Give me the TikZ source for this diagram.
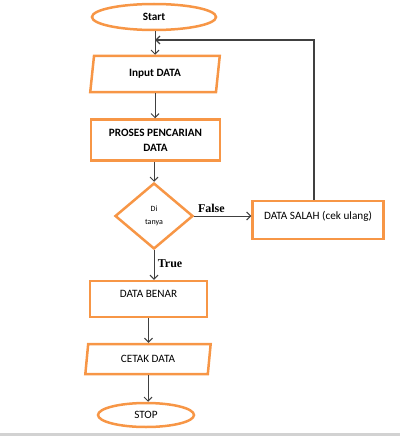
\documentclass[tikz,border=0pt]{standalone}
\usepackage{fontspec}
\setmainfont{Carlito}
\newfontfamily\answerfont{Liberation Serif}
\usetikzlibrary{shapes.geometric,arrows.meta}
\definecolor{boxorange}{RGB}{247,150,70}
\definecolor{linegray}{RGB}{64,64,64}
\newcommand\flowfont{\fontsize{11.2}{15}\selectfont}

\begin{document}
\begin{tikzpicture}[x=1pt,y=-1pt,>={Straight Barb[length=4pt,width=8pt]},
	flow/.style={draw=boxorange,line width=2.5pt,inner sep=0pt,font=\flowfont},
	term/.style={flow,ellipse},
	io/.style={flow,trapezium,trapezium left angle=80,trapezium right angle=100,trapezium stretches=true},
	proc/.style={flow,rectangle},
	ask/.style={flow,diamond,align=center,font=\fontsize{8}{13}\selectfont},
	link/.style={->,draw=linegray,line width=1pt},
	answer/.style={font=\answerfont\bfseries\fontsize{12}{14}\selectfont}]
			\useasboundingbox (0,0) rectangle (400,436);
			\fill[gray!35] (0,433) rectangle (400,436);
			\node[term,minimum width=124,minimum height=26,font=\flowfont\bfseries] (start) at (154,17) {Start};
			\node[io,minimum width=130,minimum height=36,font=\flowfont\bfseries] (input) at (155,74) {Input DATA};
			\node[proc,minimum width=129,minimum height=41,align=center,font=\flowfont\bfseries] (proses) at (155.5,140) {PROSES PENCARIAN\\DATA};
			\node[ask,minimum width=78,minimum height=66] (tanya) at (154,216) {Di\\tanya};
			\node[proc,minimum width=131,text height=12,text depth=14,inner ysep=6] (salah) at (318,220) {DATA SALAH (cek ulang)};
			\node[proc,minimum width=117,text height=10,text depth=14,inner ysep=6] (benar) at (148.5,299) {DATA BENAR};
			\node[io,minimum width=126,minimum height=30] (cetak) at (148,359) {CETAK DATA};
			\node[term,minimum width=96,minimum height=24] (stop) at (146,415) {STOP};
			\coordinate (back) at (155,40);
			\draw[link] (input.north |- start.south) -- (input.north);
			\draw[link] (input.south) -- (input.south |- proses.north);
			\draw[link] (tanya.north |- proses.south) -- (tanya.north);
			\draw[link] (tanya.east) -- (tanya.east -| salah.west) node[answer,pos=.3,above] (false) {False};
			\draw[link] (tanya.south) -- (tanya.south |- benar.north) node[answer,pos=.45,right] (true) {True};
			\draw[link] (benar.south) -- (benar.south |- cetak.north);
			\draw[link] (cetak.south) -- (cetak.south |- stop.north);
			\draw[link,line width=1.3pt] ([xshift=-4]salah.north) |- (back);
		\end{tikzpicture}
\end{document}
